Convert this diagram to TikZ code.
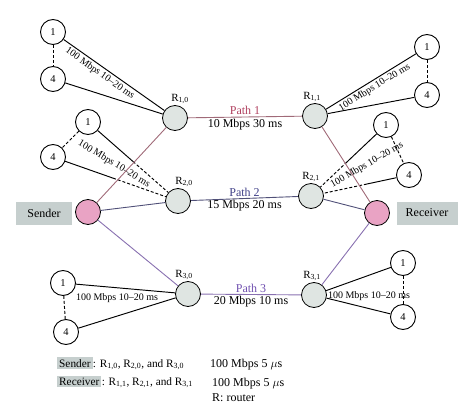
\documentclass[tikz,border=0pt]{standalone}
\usepackage{fontspec}
\setmainfont{Liberation Serif}
\usetikzlibrary{calc}
\definecolor{routerfill}{HTML}{DFE5E2}
\definecolor{endfill}{HTML}{E9A3C4}
\definecolor{boxgray}{HTML}{C6CFCE}
\definecolor{pone}{HTML}{A06A78}
\definecolor{ponet}{HTML}{B0405F}
\definecolor{ptwo}{HTML}{505078}
\definecolor{ptwot}{HTML}{404088}
\definecolor{pthree}{HTML}{8870B0}
\definecolor{pthreet}{HTML}{7050B0}
\begin{document}
\begin{tikzpicture}[x=1pt,y=-1pt,
  host/.style={circle,draw,line width=0.9pt,minimum size=25pt,inner sep=0pt,font=\fontsize{10.5}{12}\selectfont},
  router/.style={circle,draw,line width=0.8pt,fill=routerfill,minimum size=25pt,inner sep=0pt},
  endpt/.style={circle,draw,line width=0.8pt,fill=endfill,minimum size=25pt,inner sep=0pt},
  lbox/.style={fill=boxgray,minimum height=23pt,inner sep=0pt,font=\fontsize{12}{14}\selectfont},
  hl/.style={draw=black,line width=0.95pt},
  hdash/.style={draw=black,line width=0.95pt,dash pattern=on 3pt off 2pt},
  lbl/.style={font=\fontsize{10}{12}\selectfont,inner sep=2pt},
  rl/.style={font=\fontsize{11}{13}\selectfont,inner sep=1pt},
  pl/.style={font=\fontsize{12}{14}\selectfont,inner sep=1.5pt},
  leg/.style={font=\fontsize{11.3}{14}\selectfont},
  legr/.style={font=\fontsize{12}{14}\selectfont},
  lineone/.style={draw=pone,line width=0.9pt},
  linetwo/.style={draw=ptwo,line width=0.9pt},
  linethree/.style={draw=pthree,line width=0.9pt}]
\useasboundingbox (0,0) rectangle (474,420);

% hosts
\node[host] (a1) at (53,32) {1};
\node[host] (a4) at (53,79) {4};
\node[host] (b1) at (427,47) {1};
\node[host] (b4) at (427,95) {4};
\node[host] (c1) at (88,122) {1};
\node[host] (c4) at (53,157) {4};
\node[host] (d1) at (386,125) {1};
\node[host] (d4) at (409,175) {4};
\node[host] (e1) at (63,283) {1};
\node[host] (e4) at (66,332) {4};
\node[host] (f1) at (403,263) {1};
\node[host] (f4) at (403,317) {4};

% routers
\node[router,label={[rl,xshift=5pt]above:R\textsubscript{1,0}}] (R10) at (175,118) {};
\node[router,label={[rl,xshift=-3pt]above:R\textsubscript{1,1}}] (R11) at (315,116) {};
\node[router,label={[rl,xshift=6pt]above:R\textsubscript{2,0}}] (R20) at (178,201) {};
\node[router,label={[rl]above:R\textsubscript{2,1}}] (R21) at (311,196) {};
\node[router,label={[rl,xshift=-4pt]above:R\textsubscript{3,0}}] (R30) at (188,294) {};
\node[router,label={[rl,xshift=-2pt]above:R\textsubscript{3,1}}] (R31) at (314,295) {};

% endpoints
\node[endpt] (S) at (88,212) {};
\node[endpt] (Rc) at (377,213) {};
\node[lbox,minimum width=56pt] (Sb) at (44,213) {Sender};
\node[lbox,minimum width=61pt] (Rb) at (427,213) {Receiver};

% dashed between hosts
\draw[hdash] (a1) -- (a4);
\draw[hdash] (b1) -- (b4);
\draw[hdash] (c1) -- (c4);
\draw[hdash] (d1) -- (d4);
\draw[hdash] (e1) -- (e4);
\draw[hdash] (f1) -- (f4);

% host links
\draw[hl] (a1) -- node[lbl,sloped,below,pos=0.4]{100 Mbps 10--20 ms} (R10);
\draw[hl] (a4) -- (R10);
\draw[hl] (R11) -- node[lbl,sloped,below,pos=0.5]{100 Mbps 10--20 ms} (b1);
\draw[hl] (R11) -- (b4);

\coordinate (cm1) at ($(c1)!0.5!(R20)$);
\coordinate (cm4) at ($(c4)!0.48!(R20)$);
\draw[hl] (c1) -- (cm1);
\draw[hdash] (cm1) -- (R20);
\draw[hl] (c4) -- (cm4);
\draw[hdash] (cm4) -- (R20);
\node[lbl,rotate=-31] (cl) at (114,164) {100 Mbps 10--20 ms};

\coordinate (dm1) at ($(d1)!0.52!(R21)$);
\coordinate (dm4) at ($(d4)!0.43!(R21)$);
\draw[hl] (d1) -- (dm1);
\draw[hdash] (dm1) -- (R21);
\draw[hl] (d4) -- (dm4);
\draw[hdash] (dm4) -- (R21);
\node[lbl,rotate=30] (dl) at (367,165) {100 Mbps 10--20 ms};

\draw[hl] (e1) -- (R30);
\draw[hl] (e4) -- (R30);
\node[lbl] (el) at (117,298) {100 Mbps 10--20 ms};
\draw[hl] (R31) -- (f1);
\draw[hl] (R31) -- (f4);
\node[lbl,inner sep=0pt] (fl) at (369,296) {100 Mbps 10--20 ms};

% paths
\draw[lineone] (R10) -- node[pl,above,text=ponet]{Path 1} node[pl,below]{10 Mbps 30 ms} (R11);
\draw[lineone] (S) -- (R10);
\draw[lineone] (R11) -- (Rc);
\draw[linetwo] (R20) -- node[pl,above,text=ptwot,inner sep=1pt]{Path 2} node[pl,below,inner sep=1pt]{15 Mbps 20 ms} (R21);
\draw[linetwo] (S) -- (R20);
\draw[linetwo] (R21) -- (Rc);
\draw[linethree] (R30) -- node[pl,above,text=pthreet]{Path 3} node[pl,below]{20 Mbps 10 ms} (R31);
\draw[linethree] (S) -- (R30);
\draw[linethree] (R31) -- (Rc);

% legend
\node[leg,fill=boxgray,anchor=base west,inner xsep=2pt,inner ysep=2pt] (ls) at (57,367) {Sender};
\node[leg,anchor=base west,inner xsep=0pt] (lst) at (ls.base east) {: R\textsubscript{1,0}, R\textsubscript{2,0}, and R\textsubscript{3,0}};
\node[leg,fill=boxgray,anchor=base west,inner xsep=2pt,inner ysep=2pt] (lr) at (57,385) {Receiver};
\node[leg,anchor=base west,inner xsep=0pt] (lrt) at (lr.base east) {: R\textsubscript{1,1}, R\textsubscript{2,1}, and R\textsubscript{3,1}};
\node[legr,anchor=base west,inner xsep=0pt] (l1) at (210,367) {100 Mbps 5 $\mu$s};
\node[legr,anchor=base west,inner xsep=0pt] (l2) at (212,386) {100 Mbps 5 $\mu$s};
\node[legr,anchor=base west,inner xsep=0pt] (l3) at (212,401) {R: router};
\end{tikzpicture}
\end{document}
